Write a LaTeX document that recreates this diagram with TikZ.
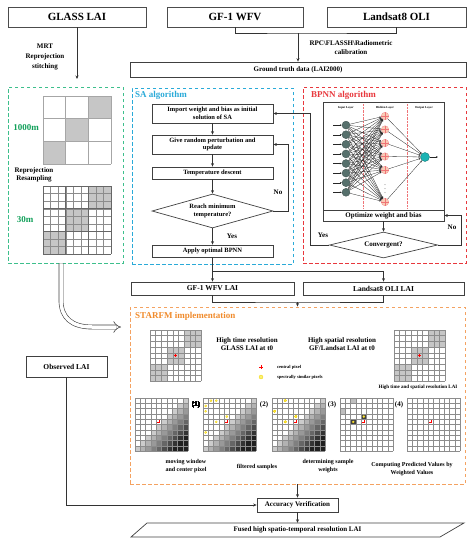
\documentclass[tikz,border=0pt]{standalone}
\usepackage{fontspec}
\setmainfont{Liberation Serif}
\usepackage{tikz}
\usetikzlibrary{positioning,arrows.meta,shapes.geometric}
\usepackage{xcolor}

\definecolor{resgreen}{HTML}{3DBF8C}
\definecolor{sacyan}{HTML}{2AAAD8}
\definecolor{bpred}{HTML}{E8383D}
\definecolor{starorange}{HTML}{F4A261}
\definecolor{labgreen}{HTML}{12A05A}
\definecolor{laborange}{HTML}{F08B2C}
\definecolor{inputnode}{HTML}{56706C}
\definecolor{hiddennode}{HTML}{F8CDB6}
\definecolor{outputnode}{HTML}{1BB3B3}
\definecolor{simyellow}{HTML}{F2E600}

% n x n raster, upper left corner (x,y), cell size s
\newcommand{\laigrid}[5][gridline]{%
  \foreach \gk in {0,...,#4}{%
    \draw[#1] ({#2+\gk*#5},{#3}) -- ({#2+\gk*#5},{#3+#4*#5});
    \draw[#1] ({#2},{#3+\gk*#5}) -- ({#2+#4*#5},{#3+\gk*#5});
  }}
% one filled cell: corner x, corner y, size, column, row
\newcommand{\laicell}[6][gray!45]{%
  \fill[#1] ({#2+#5*#4},{#3+#6*#4}) rectangle ++(#4,#4);}
% 9 x 9 raster with three coarse pixels shaded
\newcommand{\blockgrid}[3]{%
  \foreach \bc/\br in {6/0,3/3,0/6}{%
    \fill[gray!45] ({#1+\bc*#3},{#2+\br*#3}) rectangle ++({3*#3},{3*#3});}%
  \laigrid{#1}{#2}{9}{#3}}
% 10 x 10 raster with a diagonal gradient
\newcommand{\slopegrid}[3]{%
  \foreach \gc in {0,...,9}{\foreach \gr in {0,...,9}{%
    \pgfmathtruncatemacro{\lev}{\gc+\gr-9}%
    \ifnum\lev>-1
      \pgfmathtruncatemacro{\tone}{min(88,20+\lev*10)}%
      \fill[black!\tone] ({#1+\gc*#3},{#2+\gr*#3}) rectangle ++(#3,#3);
    \fi}}%
  \laigrid{#1}{#2}{10}{#3}}
% central pixel and similar pixel marks
\newcommand{\centermark}[3][1.5]{%
  \draw[red, line width=0.6pt] ({#2-#1},{#3}) -- ({#2+#1},{#3}) ({#2},{#3-#1}) -- ({#2},{#3+#1});}
\newcommand{\simdot}[3][1.1pt]{%
  \filldraw[draw=simyellow!80!orange, fill=simyellow!55, line width=0.3pt] ({#2},{#3}) circle (#1);}

\begin{document}
\begin{tikzpicture}[x=1pt, y=-1pt,
    >={Stealth[length=3.5pt,width=3pt]},
    link/.style={draw=black!80, line width=0.6pt},
    mainbox/.style={draw=black!70, line width=0.8pt, fill=white, inner sep=0pt, font=\fontsize{11}{13}\selectfont\bfseries},
    flowbox/.style={draw=black!75, line width=0.7pt, inner sep=0pt, align=center, font=\fontsize{6.5}{7.6}\selectfont\bfseries},
    choice/.style={diamond, draw=black!75, line width=0.7pt, inner sep=0pt, align=center, font=\fontsize{6.5}{7.6}\selectfont\bfseries},
    note/.style={align=center, inner sep=0pt, font=\fontsize{7}{8.5}\selectfont\bfseries},
    tinynote/.style={align=center, inner sep=0pt, font=\fontsize{4.5}{5.5}\selectfont\bfseries},
    caption/.style={align=center, inner sep=0pt, font=\fontsize{6}{7.5}\selectfont\bfseries},
    dashbox/.style={draw=#1, dash pattern=on 3.5pt off 2.5pt, line width=0.9pt, inner sep=0pt},
    boxtitle/.style={anchor=west, inner sep=0pt, font=\fontsize{9}{11}\selectfont\bfseries},
    gridline/.style={draw=black!45, line width=0.35pt},
    coarseline/.style={draw=black!60, line width=0.7pt},
    inunit/.style={circle, fill=inputnode, draw=inputnode!70!black, line width=0.3pt, minimum size=8pt, inner sep=0pt},
    hidunit/.style={circle, fill=hiddennode, draw=bpred!60, line width=0.3pt, minimum size=7.5pt, inner sep=0pt},
    outunit/.style={circle, fill=outputnode, draw=outputnode!60!black, line width=0.3pt, minimum size=9pt, inner sep=0pt},
    netlink/.style={draw=black!85, line width=0.3pt, -{Stealth[length=2pt,width=1.6pt]}},
    layerlab/.style={inner sep=0pt, font=\fontsize{3}{3.5}\selectfont\bfseries},
    hollow/.style={draw=black!75, double=white, double distance=3.5pt, line width=0.6pt, -{Implies}}
  ]
  \useasboundingbox (0,0) rectangle (474,544);

  % input data
  \node[mainbox, minimum width=138pt, minimum height=20pt] (glass) at (77,17) {GLASS LAI};
  \node[mainbox, minimum width=136pt, minimum height=20pt] (gfwfv) at (235,17) {GF-1 WFV};
  \node[mainbox, minimum width=139pt, minimum height=20pt] (landsat) at (396.5,17) {Landsat8 OLI};
  \node[flowbox, minimum width=336pt, minimum height=15pt, font=\fontsize{7}{8}\selectfont\bfseries] (ground) at (298,69.5) {Ground truth data (LAI2000)};
  \coordinate (topjoin) at (298,33);
  \draw[link] (gfwfv.south) |- (topjoin) -| (landsat.south);
  \draw[link,->] (topjoin) -- (ground);
  \node[note] (calib) at (351,47.5) {RPC\textbackslash FLASSH\textbackslash Radiometric\\calibration};
  \coordinate (glassend) at (77,79);
  \draw[link,->] (glass) -- (glassend);
  \node[note, font=\fontsize{7}{10}\selectfont\bfseries] (mrt) at (45,57) {MRT\\Reprojection\\stitching};

  % dashed frames
  \node[dashbox=resgreen, minimum width=115pt, minimum height=176pt] (resbox) at (65.5,175) {};
  \node[dashbox=sacyan, minimum width=161pt, minimum height=176pt] (sabox) at (212.5,176) {};
  \node[dashbox=bpred, minimum width=163pt, minimum height=176pt] (bpbox) at (384.5,175) {};
  \node[dashbox=starorange, minimum width=335pt, minimum height=177pt] (starfm) at (297.5,395.5) {};
  \node[boxtitle, text=sacyan] (satitle) at (135,95) {SA algorithm};
  \node[boxtitle, text=bpred] (bptitle) at (311,95) {BPNN algorithm};
  \node[boxtitle, text=laborange] (sttitle) at (135,316) {STARFM implementation};

  % resampling
  \foreach \bc/\br in {2/0,1/1,0/2}
    \laicell{43}{96}{22.67}{\bc}{\br};
  \laigrid[draw=black!35, line width=0.9pt]{43}{96}{3}{22.67}
  \blockgrid{43}{186}{7.56}
  \laigrid[coarseline]{43}{186}{3}{22.67}
  \node[note, font=\fontsize{9}{11}\selectfont\bfseries, text=labgreen] (coarse) at (26,128) {1000m};
  \node[note, font=\fontsize{9}{11}\selectfont\bfseries, text=labgreen] (fine) at (25,220) {30m};
  \node[note] (resamp) at (34,175) {Reprojection\\Resampling};
  \draw[hollow] ([xshift=-4.5pt]resbox.south) -- (61,300) .. controls (61,318) and (72,327) .. (92,327) -- (121,327);

  % SA algorithm
  \node[flowbox, minimum width=121pt, minimum height=19pt] (import) at (212.5,113.5) {Import weight and bias as initial\\solution of SA};
  \node[flowbox, minimum width=121pt, minimum height=19pt] (perturb) at (212.5,144.5) {Give random perturbation and\\update};
  \node[flowbox, minimum width=121pt, minimum height=12pt] (descent) at (212.5,173) {Temperature descent};
  \node[choice, aspect=3.5, minimum width=121pt, minimum height=34pt] (reach) at (212.5,211) {Reach minimum\\temperature?};
  \node[flowbox, minimum width=121pt, minimum height=12pt] (apply) at (212.5,251) {Apply optimal BPNN};
  \draw[link,->] (import) -- (perturb);
  \draw[link,->] (perturb) -- (descent);
  \draw[link,->] (descent) -- (reach);
  \draw[link,->] (reach) -- (apply);
  \draw[link,->] (reach.east) -- ++(15,0) |- (perturb.east);
  \node[note] (saNo) at (278,192) {No};
  \node[note] (saYes) at (232,236) {Yes};

  % BPNN algorithm
  \node[draw=black!75, line width=0.7pt, minimum width=121pt, minimum height=108pt, inner sep=0pt] (netpanel) at (383.5,156) {};
  \draw[bpred!70, densely dotted, line width=0.4pt] (363,104) -- (363,208);
  \draw[bpred!70, densely dotted, line width=0.4pt] (407,104) -- (407,208);
  \node[layerlab] (inlab) at (346,108) {Input Layer};
  \node[layerlab] (hidlab) at (385,108) {Hidden Layer};
  \node[layerlab] (outlab) at (424,108) {Output Layer};
  \foreach \i in {1,...,8}{
    \node[inunit] (in\i) at (346,{115.5+\i*9.6}) {};
    \coordinate (feed\i) at (333,{115.5+\i*9.6});
  }
  \foreach \y [count=\j] in {116,129.5,143,156.5,170,202}
    \node[hidunit] (hid\j) at (385,\y) {};
  \node[outunit] (out) at (425,157) {};
  \coordinate (outend) at (438,157);
  \foreach \i in {1,...,8}{
    \draw[netlink] (feed\i) -- (in\i);
    \foreach \j in {1,...,6}
      \draw[netlink] (in\i) -- (hid\j);
  }
  \foreach \j in {1,...,6}{
    \draw[netlink] (hid\j) -- (out);
    \draw[bpred!70, line width=0.3pt] (hid\j.north) -- (hid\j.south) (hid\j.west) -- (hid\j.east);
  }
  \draw[netlink] (out) -- (outend);
  \node[inner sep=0pt, font=\fontsize{6}{6}\selectfont] (hiddots) at (385,186) {$\vdots$};
  \node[flowbox, minimum width=121pt, minimum height=11pt, font=\fontsize{7}{8}\selectfont\bfseries] (optimize) at (383.5,215.5) {Optimize weight and bias};
  \node[choice, aspect=4.2, minimum width=108pt, minimum height=26pt, font=\fontsize{7}{8}\selectfont\bfseries] (converge) at (383.5,245) {Convergent?};
  \draw[link,->] (optimize) -- (converge);
  \draw[link,->] (converge.east) -- ++(23,0) |- (optimize.east);
  \draw[link,->] (converge.west) -- ++(-18.5,0) |- (import.east);
  \node[note] (bpNo) at (452,227) {No};
  \node[note] (bpYes) at (323,235) {Yes};

  % fine resolution LAI
  \node[flowbox, minimum width=163pt, minimum height=13pt, font=\fontsize{7.5}{9}\selectfont\bfseries] (gflai) at (212.5,288.5) {GF-1 WFV LAI};
  \node[flowbox, minimum width=161pt, minimum height=13pt, font=\fontsize{7.5}{9}\selectfont\bfseries] (landlai) at (383.5,288.5) {Landsat8 OLI LAI};
  \coordinate (split) at (212.5,271);
  \draw[link,->] (apply) -- (gflai);
  \draw[link,->] (split) -| (landlai);
  \coordinate (laijoin) at (297.5,302);
  \draw[link] (gflai.south) |- (laijoin) -| (landlai.south);
  \draw[link,->] (laijoin) -- (starfm);

  % STARFM
  \blockgrid{150}{330}{5.67}
  \centermark{175.5}{355.5}
  \blockgrid{394}{330}{5.67}
  \centermark{419.5}{355.5}
  \node[note] (coarsetxt) at (247,344) {High time resolution\\GLASS LAI at t0};
  \node[note] (finetxt) at (342,344) {High spatial resolution\\GF/Landsat LAI at t0};
  \centermark[2]{261}{367}
  \simdot[2pt]{261}{377}
  \node[tinynote, anchor=west] (centrallab) at (277,367) {central pixel};
  \node[tinynote, anchor=west] (similarlab) at (277,377) {spectrally similar pixels};
  \node[tinynote, font=\fontsize{5}{6}\selectfont\bfseries] (fusedtxt) at (418,387) {High time and spatial resolution LAI};

  \slopegrid{135}{398}{5.3}
  \centermark{158.85}{421.85}
  \slopegrid{203}{398}{5.3}
  \foreach \gc/\gr in {1/0,2/0,0/1,0/2,2/4,4/3,0/6}
    \simdot{203+(\gc+0.5)*5.3}{398+(\gr+0.5)*5.3}
  \centermark{226.85}{421.85}
  \slopegrid{272}{398}{5.3}
  \foreach \gc/\gr in {2/0,0/2,2/4,4/3}
    \simdot{272+(\gc+0.5)*5.3}{398+(\gr+0.5)*5.3}
  \centermark{295.85}{421.85}
  \laicell[gray!50]{340}{398}{5.3}{2}{0}
  \laicell[gray!50]{340}{398}{5.3}{0}{2}
  \laicell[black!75]{340}{398}{5.3}{4}{3}
  \laicell[black!75]{340}{398}{5.3}{2}{4}
  \laigrid{340}{398}{10}{5.3}
  \foreach \gc/\gr in {4/3,2/4}
    \simdot{340+(\gc+0.5)*5.3}{398+(\gr+0.5)*5.3}
  \centermark{363.85}{421.85}
  \laigrid{407}{398}{10}{5.3}
  \centermark{430.85}{421.85}
  \node[note] (step1) at (196,405) {(1)};
  \node[note] (step2) at (264,405) {(2)};
  \node[note] (step3) at (332,405) {(3)};
  \node[note] (step4) at (399,405) {(4)};
  \node[caption] (cap1) at (186,466) {moving window\\and center pixel};
  \node[caption] (cap2) at (257,467) {filtered samples};
  \node[caption] (cap3) at (328,466) {determining sample\\weights};
  \node[caption] (cap4) at (412,469) {Computing Predicted Values by\\Weighted Values};

  % verification and output
  \node[flowbox, minimum width=81pt, minimum height=21pt, font=\fontsize{7.5}{9}\selectfont\bfseries] (observed) at (66.5,366.5) {Observed LAI};
  \node[flowbox, minimum width=81pt, minimum height=14pt, font=\fontsize{7}{8}\selectfont\bfseries] (accuracy) at (297.5,505) {Accuracy Verification};
  \node[inner sep=0pt, minimum height=14pt, font=\fontsize{7}{8}\selectfont\bfseries] (fused) at (297.5,530) {Fused high spatio-temporal resolution LAI};
  \draw[black!75, line width=0.7pt] (147,523) -- (464,523) -- (440,537) -- (131,537) -- cycle;
  \draw[link,->] (starfm) -- (accuracy);
  \draw[link,->] (observed) |- (accuracy);
  \draw[link,->] (accuracy) -- (fused);
\end{tikzpicture}
\end{document}
